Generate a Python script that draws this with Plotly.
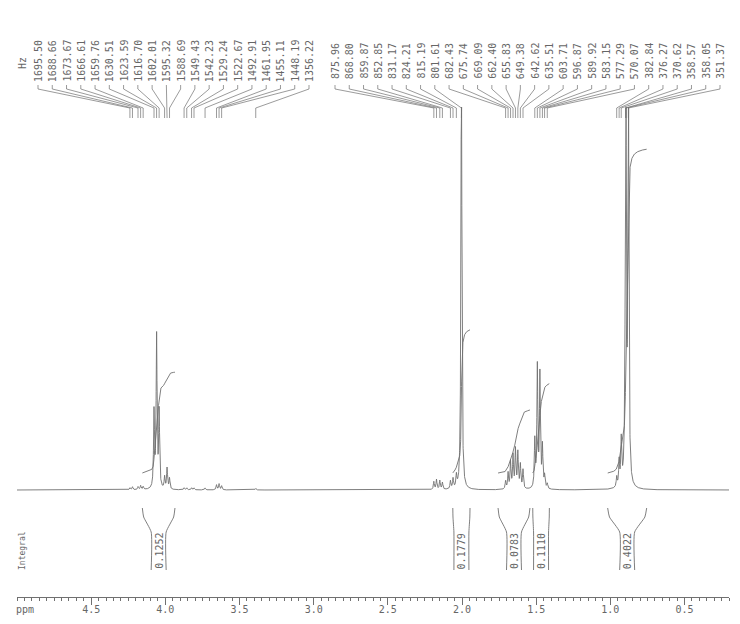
import numpy as np
import plotly.graph_objects as go

# ---------------- data ----------------
SF_MHZ = 400.0  # spectrometer frequency (Hz -> ppm)

# peak picking labels (Hz), two label groups
hz_group1 = [1695.50, 1688.66, 1673.67, 1666.61, 1659.76, 1630.51, 1623.59,
             1616.70, 1602.01, 1595.32, 1588.69, 1549.43, 1542.23, 1529.24,
             1522.67, 1492.91, 1461.95, 1455.11, 1448.19, 1356.22]
hz_group2 = [875.96, 868.80, 859.87, 852.85, 831.17, 824.21, 815.19, 801.61,
             682.43, 675.74, 669.09, 662.40, 655.83, 649.38, 642.62, 635.51,
             603.71, 596.87, 589.92, 583.15, 577.29, 570.07, 382.84, 376.27,
             370.62, 358.57, 358.05, 351.37]

# estimated line intensities (arbitrary units, ~pixels above baseline)
height_group1 = [2, 3, 3, 4, 3, 76, 152, 76, 12, 21, 11, 2, 2, 2, 2, 2,
                 5, 6, 4, 1.5]
height_group2 = [8, 10, 9, 7, 8, 10, 12, 450,
                 8, 16, 27, 33, 39, 36, 24, 19,
                 47, 121, 113, 41, 12, 5, 10, 25,
                 45, 240, 230, 450]

# integral regions (ppm, left -> right) and values
integral_left = [4.155, 2.062, 1.757, 1.523, 1.018]
integral_right = [3.935, 1.946, 1.542, 1.411, 0.755]
integral_values = [0.1252, 0.1779, 0.0783, 0.1110, 0.4022]

x_tick_vals = [4.5, 4.0, 3.5, 3.0, 2.5, 2.0, 1.5, 1.0, 0.5]
x_tick_text = ["4.5", "4.0", "3.5", "3.0", "2.5", "2.0", "1.5", "1.0", "0.5"]

# ---------------- layout constants ----------------
# the html page body has an 8px margin; figure coords = page coords - 8
OFF = 8
W, H = 724, 608
PLOT_L, PLOT_R = 17, 729          # page pixels of the plot area
PLOT_T, PLOT_B = 8, 597
ML = PLOT_L - OFF
MR = W - (PLOT_R - OFF)
MT = PLOT_T - OFF
MB = H - (PLOT_B - OFF)
X_LEFT, X_RIGHT = 5.0, 0.2
PLOT_W = PLOT_R - PLOT_L
PX_PER_PPM = PLOT_W / (X_LEFT - X_RIGHT)
BASE = 490                         # page pixel of the spectrum baseline
Y_TOP, Y_BOT = BASE - PLOT_T, BASE - PLOT_B
CLIP = 383
GAMMA = 0.0037                    # Lorentzian half width (ppm)
INT_SCALE = 805.0
INT_OFFSET = 17.0
GREY = "#707070"
TXT = "#666666"
MONO = "DejaVu Sans Mono"


def px_to_ppm(px):
    return X_LEFT - (px - PLOT_L) / PX_PER_PPM


def ypix(p):
    return BASE - p


# ---------------- spectrum ----------------
ppm_all = [h / SF_MHZ for h in hz_group1 + hz_group2]
h_all = height_group1 + height_group2
x = np.arange(X_LEFT, X_RIGHT - 1e-9, -0.0004)
spec = np.zeros_like(x)
for p, h in zip(ppm_all, h_all):
    spec += h * GAMMA ** 2 / ((x - p) ** 2 + GAMMA ** 2)
spec_plot = np.minimum(spec, CLIP)

fig = go.Figure()
fig.add_trace(go.Scatter(x=x, y=spec_plot, mode="lines",
                         line=dict(color=GREY, width=0.9),
                         hoverinfo="skip", showlegend=False))

# ---------------- integral curves and brackets ----------------
for a, b, v in zip(integral_left, integral_right, integral_values):
    m = (x <= a) & (x >= b)
    xs = x[m]
    cs = np.cumsum(spec[m])
    ys = INT_OFFSET + v * INT_SCALE * cs / cs[-1]
    fig.add_trace(go.Scatter(x=xs, y=ys, mode="lines",
                             line=dict(color=GREY, width=0.9),
                             hoverinfo="skip", showlegend=False))
    # bracket below spectrum
    center = (a + b) / 2
    half_slot = 7.5 / PX_PER_PPM
    nl = min(a, center + half_slot)
    nr = max(b, center - half_slot)
    yt, y1, y2, yb = ypix(508), ypix(517), ypix(532), ypix(570)
    for edge, narrow in ((a, nl), (b, nr)):
        bx = [edge, edge + 0.15 * (narrow - edge), narrow, narrow]
        by = [yt, y1, y2, yb]
        fig.add_trace(go.Scatter(x=bx, y=by, mode="lines",
                                 line=dict(color=GREY, width=0.9, shape="spline",
                                           smoothing=0.5),
                                 hoverinfo="skip", showlegend=False))
    fig.add_annotation(x=center, y=ypix(551), text=f"{v:.4f}", textangle=-90,
                       showarrow=False, xanchor="center", yanchor="middle",
                       font=dict(family=MONO, size=10, color=TXT))

# ---------------- peak labels with leader lines ----------------
def label_group(hz_list, px_first, px_last):
    n = len(hz_list)
    lx, ly = [], []
    for i, hz in enumerate(hz_list):
        px = px_first + (px_last - px_first) * i / (n - 1)
        xl = px_to_ppm(px)
        xp = hz / SF_MHZ
        lx += [xl, xl, xp, xp, None]
        ly += [ypix(85), ypix(89), ypix(108), ypix(118), None]
        fig.add_annotation(x=xl, y=ypix(61), text=f"{hz:.2f}", textangle=-90,
                           showarrow=False, xanchor="center", yanchor="middle",
                           font=dict(family=MONO, size=10, color=TXT))
    fig.add_trace(go.Scatter(x=lx, y=ly, mode="lines",
                             line=dict(color=GREY, width=0.7),
                             hoverinfo="skip", showlegend=False))

label_group(hz_group1, 38, 309)
label_group(hz_group2, 335, 720)

fig.add_annotation(x=px_to_ppm(22), y=ypix(63), text="Hz", textangle=-90,
                   showarrow=False, xanchor="center", yanchor="middle",
                   font=dict(family=MONO, size=10, color=TXT))
fig.add_annotation(x=px_to_ppm(22), y=ypix(551), text="Integral", textangle=-90,
                   showarrow=False, xanchor="center", yanchor="middle",
                   font=dict(family=MONO, size=8, color=TXT))
fig.add_annotation(xref="paper", yref="paper", x=(25 - PLOT_L) / PLOT_W,
                   y=-(609 - PLOT_B) / (PLOT_B - PLOT_T), text="ppm",
                   showarrow=False, xanchor="center", yanchor="middle",
                   font=dict(family=MONO, size=10, color=TXT))

fig.update_layout(
    width=W, height=H,
    margin=dict(l=ML, r=MR, t=MT, b=MB, pad=0),
    paper_bgcolor="white", plot_bgcolor="white",
    showlegend=False,
    xaxis=dict(range=[X_LEFT, X_RIGHT], tickvals=x_tick_vals, ticktext=x_tick_text,
               showgrid=False, zeroline=False, showline=True, linecolor=GREY,
               linewidth=1, ticks="outside", ticklen=7, tickcolor=GREY,
               ticklabelstandoff=-4, automargin=False,
               tickfont=dict(family=MONO, size=10, color=TXT),
               minor=dict(dtick=0.05, tick0=0, ticks="outside", ticklen=3,
                          tickcolor=GREY, showgrid=False)),
    yaxis=dict(range=[Y_BOT, Y_TOP], visible=False),
)

fig.write_html("out.html")
